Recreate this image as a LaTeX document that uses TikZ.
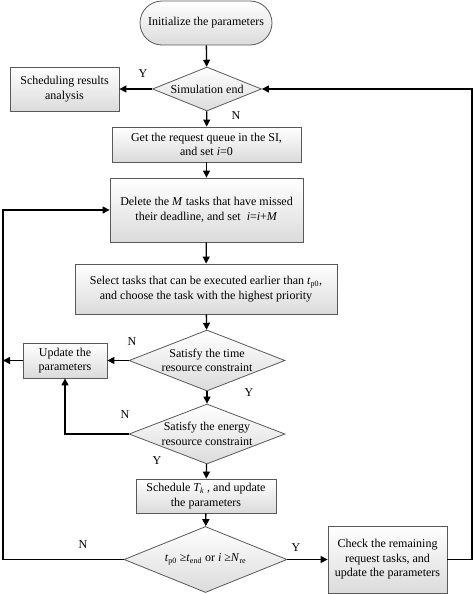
\documentclass[tikz,border=0pt]{standalone}
\usepackage{fontspec}
\setmainfont{Liberation Serif}
\usetikzlibrary{shapes.geometric,arrows.meta}
\begin{document}
\begin{tikzpicture}[x=1pt,y=-1pt,
  font=\fontsize{12}{14.5}\selectfont,
  boxbase/.style={draw=gray!70!black,line width=0.8pt,top color=white,bottom color=gray!28,align=center,inner sep=1pt},
  procbox/.style={boxbase,rectangle},
  startbox/.style={boxbase,rectangle,rounded corners=22pt},
  decbox/.style={boxbase,diamond,inner sep=0pt},
  arr/.style={line width=1.3pt,-{Triangle[length=7pt,width=7pt]}},
  lab/.style={inner sep=0pt}]
\useasboundingbox (0,0) rectangle (474,594);
\node[startbox,minimum width=132pt,minimum height=44pt] (start) at (206,23) {Initialize the parameters};
\node[decbox,minimum width=109pt,minimum height=44pt,aspect=2.48] (sim) at (207,89) {Simulation end};
\node[procbox,minimum width=109pt,minimum height=44pt] (sra) at (64.5,89) {Scheduling results\\analysis};
\node[procbox,minimum width=189pt,minimum height=35pt] (get) at (206.5,144.5) {Get the request queue in the SI,\\and set \textit{i}=0};
\node[procbox,minimum width=193pt,minimum height=64pt] (del) at (206.5,210) {Delete the \textit{M} tasks that have missed\\their deadline, and set\ \ \textit{i}=\textit{i}+\textit{M}};
\node[procbox,minimum width=262pt,minimum height=50pt] (sel) at (206,289) {Select tasks that can be executed earlier than \textit{t}\textsubscript{p0},\\and choose the task with the highest priority};
\node[decbox,minimum width=156pt,minimum height=61pt,aspect=2.56] (time) at (207,360.5) {Satisfy the time\\resource constraint};
\node[procbox,minimum width=84pt,minimum height=35pt] (upd) at (65,360.5) {Update the\\parameters};
\node[decbox,minimum width=156pt,minimum height=60pt,aspect=2.6] (energy) at (207,434) {Satisfy the energy\\resource constraint};
\node[procbox,minimum width=140pt,minimum height=34pt] (sched) at (206,496) {Schedule \textit{T\textsubscript{k}} , and update\\the parameters};
\node[decbox,minimum width=163pt,minimum height=66pt,aspect=2.47] (fin) at (205.5,559.5) {\textit{t}\textsubscript{p0} ≥\textit{t}\textsubscript{end} or \textit{i} ≥\textit{N}\textsubscript{re}};
\node[procbox,minimum width=119pt,minimum height=67pt] (check) at (387.5,559.5) {Check the remaining\\request tasks, and\\update the parameters};
\coordinate (lbot) at (3,559.5);
\coordinate (ltop) at (3,210);
\coordinate (lmid) at (3,360.5);
\coordinate (rbot) at (472,559.5);
\coordinate (rtop) at (472,89);
\draw[arr] (start) -- (sim);
\draw[arr] (sim) -- (sra);
\draw[arr] (sim) -- (get);
\draw[arr] (get) -- (del);
\draw[arr] (del) -- (sel);
\draw[arr] (sel) -- (time);
\draw[arr] (time) -- (upd);
\draw[arr] (time) -- (energy);
\draw[arr] (energy.west) -| (upd.south);
\draw[arr] (energy) -- (sched);
\draw[arr] (sched) -- (fin);
\draw[arr] (fin) -- (check);
\draw[arr] (fin.west) -- (lbot) -- (ltop) -- (del.west);
\draw[arr] (upd.west) -- (lmid);
\draw[arr] (check.east) -- (rbot) -- (rtop) -- (sim.east);
\node[lab] (ly1) at (143,74) {Y};
\node[lab] (ln1) at (236,116) {N};
\node[lab] (ln2) at (132,342) {N};
\node[lab] (ly2) at (249,393) {Y};
\node[lab] (ln3) at (125,415) {N};
\node[lab] (ly3) at (157,461) {Y};
\node[lab] (ln4) at (83,545) {N};
\node[lab] (ly4) at (296,548) {Y};
\end{tikzpicture}
\end{document}
